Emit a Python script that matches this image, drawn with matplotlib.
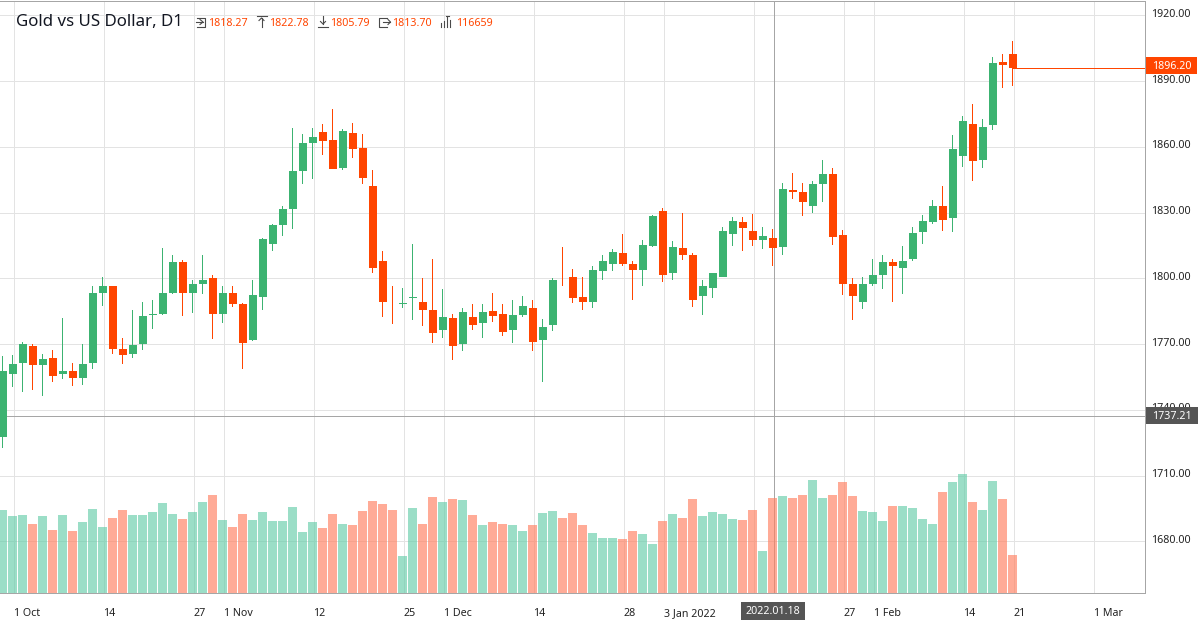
"""Gold vs US Dollar daily candles with volume, TradingView style."""

import matplotlib
matplotlib.use("Agg")
import matplotlib.pyplot as plt
from matplotlib.lines import Line2D
from matplotlib.patches import Rectangle
from matplotlib.transforms import ScaledTranslation
import numpy as np

opens = [
    1727.7, 1756.4, 1761.4, 1769.1, 1760.5, 1763.6, 1756.4, 1757.7, 1754.5, 1761.4,
    1793.6, 1796.4, 1767.7, 1765.5, 1770.0, 1783.2, 1783.6, 1793.2, 1807.7, 1793.6,
    1797.3, 1800.0, 1783.6, 1793.2, 1788.2, 1771.8, 1791.4, 1815.9, 1824.5, 1831.8,
    1849.1, 1861.8, 1866.8, 1863.2, 1850.5, 1866.3, 1859.5, 1842.3, 1808.2, 1789.5,
    1788.2, 1790.9, 1789.1, 1785.5, 1776.4, 1781.8, 1770.0, 1782.3, 1779.5, 1785.0,
    1783.6, 1776.4, 1783.2, 1786.4, 1771.8, 1778.6, 1798.6, 1800.9, 1791.4, 1789.1,
    1803.6, 1806.4, 1811.8, 1806.8, 1804.1, 1815.0, 1830.9, 1802.7, 1814.1, 1810.5,
    1791.8, 1795.5, 1800.9, 1820.5, 1825.9, 1821.8, 1817.7, 1818.27, 1814.5, 1840.4,
    1839.5, 1833.2, 1843.2, 1847.7, 1820.0, 1797.7, 1789.5, 1797.7, 1801.4, 1807.3,
    1805.0, 1809.1, 1821.4, 1825.9, 1833.2, 1827.7, 1855.9, 1870.5, 1854.1, 1870.0,
    1898.6, 1902.3,
]
highs = [
    1764.5, 1765.0, 1770.9, 1770.0, 1765.4, 1767.3, 1781.8, 1761.4, 1770.0, 1796.4,
    1800.9, 1796.8, 1772.7, 1785.5, 1789.1, 1790.0, 1814.1, 1810.5, 1808.6, 1799.5,
    1810.9, 1801.4, 1796.4, 1796.8, 1788.6, 1799.1, 1818.6, 1825.0, 1832.9, 1868.6,
    1865.9, 1868.6, 1870.5, 1877.3, 1868.2, 1870.9, 1865.9, 1849.5, 1812.7, 1796.8,
    1795.5, 1815.9, 1800.0, 1809.1, 1795.0, 1783.6, 1786.4, 1788.2, 1788.2, 1793.6,
    1788.2, 1790.0, 1791.8, 1790.0, 1781.4, 1800.0, 1814.5, 1804.5, 1800.9, 1805.5,
    1810.9, 1813.6, 1820.5, 1808.2, 1817.7, 1829.1, 1832.3, 1817.3, 1830.0, 1811.8,
    1799.1, 1802.7, 1823.6, 1828.2, 1828.2, 1829.5, 1823.6, 1822.78, 1843.6, 1848.2,
    1843.6, 1844.5, 1854.1, 1850.5, 1822.3, 1800.0, 1800.5, 1809.1, 1810.9, 1809.1,
    1815.0, 1823.6, 1829.1, 1835.9, 1842.3, 1865.5, 1874.1, 1879.5, 1872.7, 1900.9,
    1902.3, 1908.2,
]
lows = [
    1722.7, 1750.5, 1748.2, 1749.1, 1746.4, 1752.7, 1754.1, 1750.9, 1751.4, 1758.6,
    1787.3, 1765.5, 1760.9, 1763.6, 1767.3, 1776.8, 1783.2, 1792.7, 1782.7, 1784.1,
    1792.7, 1772.3, 1779.5, 1786.8, 1758.6, 1771.4, 1785.5, 1812.7, 1819.5, 1822.7,
    1843.2, 1845.5, 1856.3, 1850.0, 1849.5, 1855.0, 1843.2, 1802.7, 1782.3, 1779.1,
    1786.4, 1780.9, 1778.2, 1770.5, 1772.7, 1762.7, 1766.8, 1776.4, 1772.7, 1780.0,
    1773.6, 1770.5, 1782.3, 1766.8, 1752.7, 1775.9, 1796.4, 1788.6, 1785.5, 1786.4,
    1799.1, 1803.2, 1805.5, 1790.0, 1796.4, 1814.5, 1798.6, 1799.1, 1808.6, 1786.8,
    1783.2, 1790.9, 1800.5, 1815.0, 1812.7, 1815.0, 1813.6, 1805.79, 1810.5, 1836.4,
    1828.6, 1830.0, 1835.0, 1815.5, 1792.3, 1780.9, 1785.9, 1796.4, 1795.0, 1789.1,
    1792.7, 1808.2, 1815.9, 1825.0, 1821.8, 1821.4, 1850.9, 1844.5, 1850.5, 1867.7,
    1886.8, 1887.7,
]
closes = [
    1757.7, 1760.9, 1770.0, 1760.5, 1763.2, 1755.5, 1757.7, 1754.5, 1760.9, 1793.2,
    1796.4, 1767.7, 1765.0, 1769.5, 1782.7, 1783.6, 1793.2, 1807.7, 1793.6, 1797.3,
    1799.1, 1783.6, 1793.6, 1788.2, 1770.5, 1792.3, 1818.2, 1824.5, 1831.8, 1849.1,
    1861.8, 1864.5, 1862.7, 1850.0, 1867.3, 1859.1, 1845.9, 1805.0, 1789.5, 1789.1,
    1788.6, 1791.4, 1785.5, 1775.0, 1782.3, 1769.1, 1784.5, 1778.6, 1784.5, 1782.7,
    1775.5, 1783.2, 1787.3, 1770.9, 1777.7, 1799.5, 1798.2, 1790.9, 1789.1, 1804.1,
    1808.2, 1812.3, 1806.4, 1804.1, 1815.5, 1828.6, 1801.4, 1814.5, 1810.9, 1790.0,
    1796.8, 1802.3, 1821.8, 1826.4, 1823.2, 1817.7, 1819.5, 1813.70, 1840.9, 1839.5,
    1835.0, 1843.2, 1847.7, 1819.1, 1797.3, 1791.8, 1797.3, 1801.4, 1807.3, 1805.5,
    1808.2, 1820.9, 1826.4, 1833.2, 1826.8, 1859.1, 1871.8, 1853.6, 1869.1, 1898.2,
    1897.3, 1896.20,
]
volumes = [  # thousands of ticks
    101.1, 93.7, 95.0, 83.9, 93.7, 76.5, 95.0, 75.3, 86.4, 102.3,
    80.2, 91.3, 101.1, 95.0, 95.0, 98.6, 109.7, 96.2, 90.0, 98.6,
    110.9, 119.5, 88.8, 80.2, 96.2, 88.8, 98.6, 87.6, 87.6, 104.8,
    74.1, 86.4, 79.0, 96.2, 83.9, 82.7, 99.9, 112.1, 108.5, 101.1,
    44.6, 103.6, 83.9, 117.1, 110.9, 114.6, 113.4, 95.0, 82.7, 86.4,
    83.9, 82.7, 75.3, 82.7, 97.4, 99.9, 91.3, 97.4, 82.7, 72.9,
    66.7, 66.7, 65.5, 75.3, 71.6, 59.3, 87.6, 96.2, 91.3, 114.6,
    93.7, 98.6, 96.2, 90.0, 88.8, 101.1, 50.8, 116.659, 118.3, 115.8,
    119.5, 137.9, 115.8, 119.5, 135.5, 118.3, 99.9, 98.6, 87.6, 106.0,
    106.0, 103.6, 90.0, 83.9, 123.2, 135.5, 145.3, 110.9, 101.1, 136.7,
    114.6, 45.8,
]

date_ticks = [1, 10, 19, 22, 31, 40, 44, 53, 62, 66, 75, 84, 87, 96, 101, 109]
date_labels = ["1 Oct", "14", "27", "1 Nov", "12", "25", "1 Dec", "14", "28",
               "3 Jan 2022", "", "27", "1 Feb", "14", "21", "1 Mar"]
price_ticks = [1680, 1710, 1740, 1770, 1800, 1830, 1860, 1890, 1920]

cross_index = 77
cross_price = 1737.21
cross_date = "2022.01.18"
title = "Gold vs US Dollar, D1"
readouts = ["1818.27", "1822.78", "1805.79", "1813.70", "116659"]

GREEN = "#3cb371"
RED = "#ff4500"
GRID = "#e3e3e3"
BORDER = "#a6a6a6"
W, H = 1198, 627

plt.rcParams["font.family"] = ["Noto Sans", "DejaVu Sans"]
plt.rcParams["font.size"] = 7.7

fig = plt.figure(figsize=(W / 100, H / 100), dpi=100)
ax = fig.add_axes([0, 1 - 592.5 / H, 1144.5 / W, 592 / H])
ax.set_xlim(-0.3, 114.15)
ax.set_ylim(1656.73, 1926.84)

# --- volume overlay -------------------------------------------------------

x = np.arange(len(closes))
colors = [GREEN if c >= o else RED for o, c in zip(opens, closes)]

# twinx puts the price ticks back on the left, so the tick setup comes after it
vol_ax = ax.twinx()
vol_ax.set_ylim(0, 727)
vol_ax.set_xlim(ax.get_xlim())
vol_ax.axis("off")
vol_colors = ["#66cdaa" if c == GREEN else "#ff7f5f" for c in colors]
vol_ax.bar(x - 0.05, volumes, width=0.9, color=vol_colors, alpha=0.65, linewidth=0)

# --- grid and axes --------------------------------------------------------

ax.set_xticks(np.array(date_ticks) + 0.05, date_labels, ha="left", color="#222222")
ax.set_yticks(price_ticks, [f"{p:.2f}" for p in price_ticks], color="#222222")
ax.yaxis.tick_right()
ax.tick_params(length=0)
ax.tick_params(axis="x", pad=11.2)
ax.tick_params(axis="y", pad=4.5)
ax.grid(True, color=GRID, linewidth=0.72)
ax.set_axisbelow(True)
for lab in ax.get_yticklabels():
    lab.set_transform(lab.get_transform() + ScaledTranslation(0, 2.5 / 100, fig.dpi_scale_trans))
for side in ("top", "right", "bottom"):
    ax.spines[side].set_color(BORDER)
    ax.spines[side].set_linewidth(0.72)
ax.spines["left"].set_visible(False)

# --- candles --------------------------------------------------------------

# wicks as one pixel wide bars, thin lines came out dull
wick_tops = np.array(highs) - np.array(lows)
ax.bar(x - 0.05, wick_tops, bottom=lows, width=0.1, color=colors, linewidth=0, zorder=3)
for i, (o, c) in enumerate(zip(opens, closes)):
    ax.bar(i, abs(c - o), bottom=min(o, c), width=0.8, color=colors[i],
           linewidth=0, zorder=4)

# crosshair and last price line
ax.axvline(cross_index + 0.05, color=BORDER, linewidth=0.72, zorder=2)
ax.axhline(cross_price, color=BORDER, linewidth=0.72, zorder=2)
ax.plot([x[-1], ax.get_xlim()[1]], [closes[-1], closes[-1]], color=RED, linewidth=0.72, zorder=3)

# --- pixel placed header and labels ---------------------------------------


def fig_text(px, py, s, **kwargs):
    return fig.text(px / W, 1 - py / H, s, **kwargs)


def fig_box(x0, y0, x1, y1, color):
    fig.add_artist(Rectangle((x0 / W, 1 - y1 / H), (x1 - x0) / W, (y1 - y0) / H,
                             transform=fig.transFigure, facecolor=color, edgecolor="none", zorder=5))


def icon(*segments):
    for xs, ys in segments:
        fig.add_artist(Line2D(np.array(xs) / W, 1 - np.array(ys) / H, color="#4a4a4a",
                              linewidth=0.8, transform=fig.transFigure, zorder=6))


fig_text(16, 22, title, fontsize=12.15, color="#131722", va="center", ha="left")

readout_x = [208, 269.5, 330, 392, 456]
for px, s in zip(readout_x, readouts):
    fig_text(px, 23.5, s, fontsize=7.7, color=RED, va="center", ha="left")

# open, high, low, close, volume icons
icon(([197, 205, 205, 197], [17.5, 17.5, 26.5, 26.5]), ([196, 203], [22, 22]),
     ([200, 203, 200], [19.5, 22, 24.5]))
icon(([257, 267], [15.5, 15.5]), ([261.5, 261.5], [27, 18]), ([259, 261.5, 264], [20.5, 18, 20.5]))
icon(([318, 328], [26.5, 26.5]), ([323, 323], [16, 24]), ([320.5, 323, 325.5], [21.5, 24, 21.5]))
icon(([387, 379, 379, 387], [17.5, 17.5, 26.5, 26.5]), ([383, 390.5], [22, 22]),
     ([388, 390.5, 388], [19.5, 22, 24.5]))
icon(([441, 441], [27, 23]), ([444, 444], [27, 21]), ([447, 447], [27, 17]),
     ([450, 450], [27, 20]), ([445.5, 448.5], [16, 16]))

fig_box(1146, 57, 1197, 74, RED)
fig_text(1171.5, 66.5, f"{closes[-1]:.2f}", color="white", va="center", ha="center", zorder=6)
fig_box(1146, 407, 1198, 424, "#555555")
fig_text(1172, 416.5, f"{cross_price:.2f}", color="white", va="center", ha="center", zorder=6)
fig_box(741, 602, 805, 620, "#555555")
fig_text(773, 612, cross_date, color="white", va="center", ha="center", zorder=6)

fig.savefig("out.png", dpi=100)
